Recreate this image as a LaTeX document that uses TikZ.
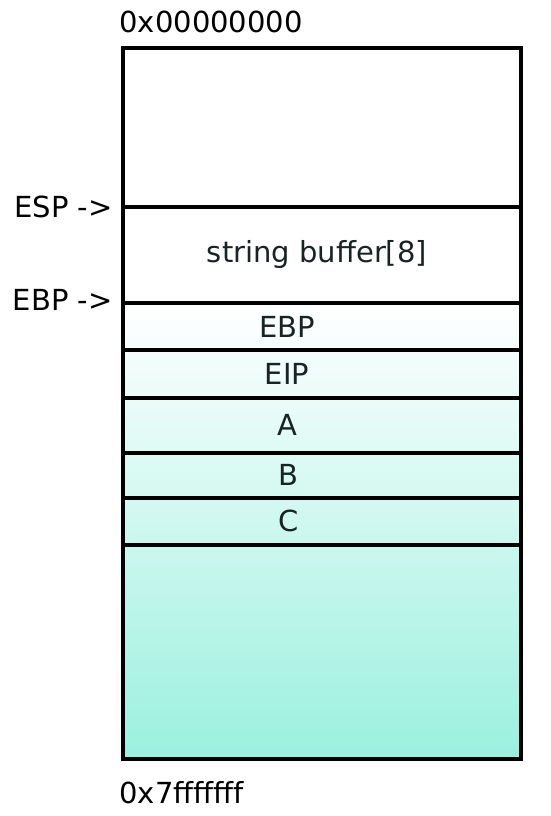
\documentclass[tikz,border=0pt]{standalone}
\usepackage{fontspec}
\setmainfont{DejaVu Sans}
\definecolor{stacktop}{RGB}{155,240,223}
\definecolor{labelink}{RGB}{25,35,35}
\tikzset{
	cell/.style={draw, line width=3.4pt, minimum width=398pt, inner sep=0pt},
	cellname/.style={text=labelink, font=\fontsize{29}{33}\selectfont},
	addr/.style={anchor=west, font=\fontsize{29}{33}\selectfont},
	reg/.style={anchor=east, font=\fontsize{29}{33}\selectfont}
}
\begin{document}
\begin{tikzpicture}[x=1pt, y=1pt]
	\useasboundingbox (0,0) rectangle (550,816);
	
	%background gradient
	\shade[top color=white, bottom color=stacktop] (123,57) rectangle (521,513);
	
	%stack cells
	\node[cell, minimum height=159pt] (free) at (322,688.5){};
	\node[cell, minimum height=96pt] (buf) at (322,561){};
	\node[cell, minimum height=47pt] (sebp) at (322,489.5){};
	\node[cell, minimum height=48pt] (seip) at (322,442){};
	\node[cell, minimum height=55pt] (arga) at (322,390.5){};
	\node[cell, minimum height=45pt] (argb) at (322,340.5){};
	\node[cell, minimum height=47pt] (argc) at (322,294.5){};
	\node[cell, minimum height=214pt] (rest) at (322,164){};
	
	%cell labels
	\node[cellname] (lbuf) at (317,561){string buffer[8]};
	\node[cellname] (lebp) at (287,489.5){EBP};
	\node[cellname] (leip) at (287,442){EIP};
	\node[cellname] (la) at (287,391){A};
	\node[cellname] (lb) at (288,341){B};
	\node[cellname] (lc) at (289,295){C};
	
	%registers
	\node[reg] (esp) at (116,609){ESP ->};
	\node[reg] (ebp) at (116,516){EBP ->};
	
	%addresses
	\node[addr] (low) at (116,794){0x00000000};
	\node[addr] (high) at (116,23){0x7fffffff};
	
\end{tikzpicture}
\end{document}
